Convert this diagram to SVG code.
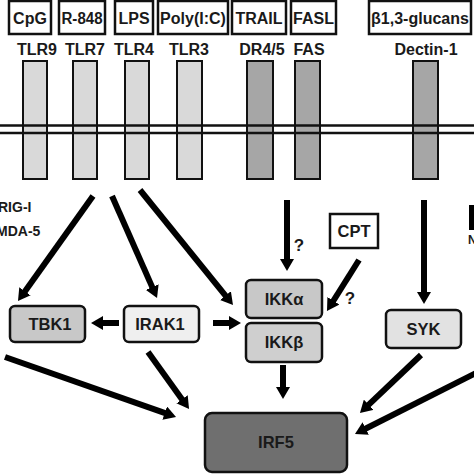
<svg xmlns="http://www.w3.org/2000/svg" width="474" height="474" viewBox="0 0 474 474">
<defs>
<style>
text{font-family:"Liberation Sans",Arial,sans-serif;font-weight:bold;fill:#1a1a1a;text-anchor:middle}
.lig{fill:#fff;stroke:#111;stroke-width:2.5}
.lbl{font-size:16px}
.rl{fill:#d9d9d9;stroke:#111;stroke-width:2}
.rd{fill:#a6a6a6;stroke:#111;stroke-width:2}
.mem{stroke:#111;stroke-width:2.5}
.node{stroke:#111;stroke-width:2.5}
.nt{font-size:16.5px}
.arr{stroke:#000;stroke-width:6;fill:none;marker-end:url(#ah)}
.q{font-size:17px;font-weight:bold}
</style>
<marker id="ah" markerUnits="userSpaceOnUse" markerWidth="12" markerHeight="14" refX="2" refY="7" orient="auto">
<path d="M0,0 L12,7 L0,14 z" fill="#000"/>
</marker>
</defs>
<rect width="474" height="474" fill="#fff"/>

<g id="ligands">
<g id="lig-cpg"><rect class="lig" x="9" y="1" width="42" height="33"/><text class="lbl" x="30" y="24">CpG</text></g>
<g id="lig-r848"><rect class="lig" x="59" y="1" width="46" height="33"/><text class="lbl" x="82" y="24" textLength="41" lengthAdjust="spacingAndGlyphs">R-848</text></g>
<g id="lig-lps"><rect class="lig" x="115" y="1" width="38" height="33"/><text class="lbl" x="134" y="24">LPS</text></g>
<g id="lig-polyic"><rect class="lig" x="158" y="1" width="70" height="33"/><text class="lbl" x="193" y="24">Poly(I:C)</text></g>
<g id="lig-trail"><rect class="lig" x="232" y="1" width="54" height="33"/><text class="lbl" x="259" y="24">TRAIL</text></g>
<g id="lig-fasl"><rect class="lig" x="291" y="1" width="45" height="33"/><text class="lbl" x="313.5" y="24">FASL</text></g>
<g id="lig-glucans"><rect class="lig" x="369" y="1" width="102" height="33"/><text class="lbl" x="420" y="24">β1,3-glucans</text></g>
</g>

<g id="receptors">
<g id="tlr9"><text class="lbl" x="37" y="55">TLR9</text><rect class="rl" x="23" y="61" width="24" height="118"/></g>
<g id="tlr7"><text class="lbl" x="85" y="55">TLR7</text><rect class="rl" x="73" y="61" width="24" height="118"/></g>
<g id="tlr4"><text class="lbl" x="134" y="55">TLR4</text><rect class="rl" x="125" y="61" width="24" height="118"/></g>
<g id="tlr3"><text class="lbl" x="189" y="55">TLR3</text><rect class="rl" x="177" y="61" width="25" height="118"/></g>
<g id="dr45"><text class="lbl" x="262" y="55">DR4/5</text><rect class="rd" x="247" y="61" width="26" height="118"/></g>
<g id="fas"><text class="lbl" x="309" y="55">FAS</text><rect class="rd" x="295" y="61" width="25" height="118"/></g>
<g id="dectin1"><text class="lbl" x="426" y="55">Dectin-1</text><rect class="rd" x="413" y="61" width="25" height="118"/></g>
</g>

<g id="membrane">
<line class="mem" x1="0" y1="125.5" x2="474" y2="125.5"/>
<line class="mem" x1="0" y1="133" x2="474" y2="133"/>
</g>

<g id="rig-mda">
<text x="-2" y="212" style="font-size:14px;text-anchor:start">RIG-I</text>
<text x="-4" y="236" style="font-size:14px;text-anchor:start">MDA-5</text>
</g>

<g id="right-edge">
<rect x="469" y="205" width="6" height="25" fill="#000"/>
<text x="468" y="244" style="font-size:12px;text-anchor:start">N</text>
</g>

<g id="tbk1"><rect class="node" x="10" y="306" width="75" height="36" rx="5" fill="#c8c8c8"/><text class="nt" x="50" y="330">TBK1</text></g>
<g id="irak1"><rect class="node" x="124" y="306" width="75" height="36" rx="5" fill="#efefef"/><text class="nt" x="160" y="330">IRAK1</text></g>
<g id="ikka"><rect class="node" x="246" y="280" width="76" height="38" rx="5" fill="#c8c8c8"/><text class="nt" x="284" y="305">IKKα</text></g>
<g id="ikkb"><rect class="node" x="246" y="323" width="76" height="39" rx="5" fill="#cfcfcf"/><text class="nt" x="284" y="348">IKKβ</text></g>
<g id="syk"><rect class="node" x="386" y="310" width="75" height="38" rx="5" fill="#e2e2e2"/><text class="nt" x="423.5" y="335">SYK</text></g>
<g id="cpt"><rect class="node" x="330" y="214" width="48" height="34" fill="#fff"/><text class="nt" x="354" y="237">CPT</text></g>
<g id="irf5"><rect class="node" x="205" y="413" width="142" height="59" rx="7" fill="#6f6f6f"/><text class="nt" x="276" y="448">IRF5</text></g>

<g id="connectors">
<line class="arr" x1="93" y1="196" x2="23.8" y2="292.9"/>
<line class="arr" x1="112" y1="196" x2="153" y2="288.9"/>
<line class="arr" x1="140" y1="190" x2="226.7" y2="297.2"/>
<line class="arr" x1="119" y1="323" x2="101" y2="323"/>
<line class="arr" x1="213" y1="323" x2="231" y2="323"/>
<line class="arr" x1="287" y1="200" x2="287" y2="261"/>
<line class="arr" x1="359" y1="260" x2="332.3" y2="302.5"/>
<line class="arr" x1="424" y1="200" x2="424" y2="294"/>
<line class="arr" x1="283" y1="365" x2="283" y2="389"/>
<line class="arr" x1="5" y1="357" x2="166.6" y2="413.7"/>
<line class="arr" x1="148" y1="352" x2="183.2" y2="400.9"/>
<line class="arr" x1="421" y1="355" x2="367.2" y2="406.1"/>
<line class="arr" x1="476" y1="373" x2="363.9" y2="429.5"/>
<text class="q" x="299" y="251">?</text>
<text class="q" x="350" y="304">?</text>
</g>
</svg>
